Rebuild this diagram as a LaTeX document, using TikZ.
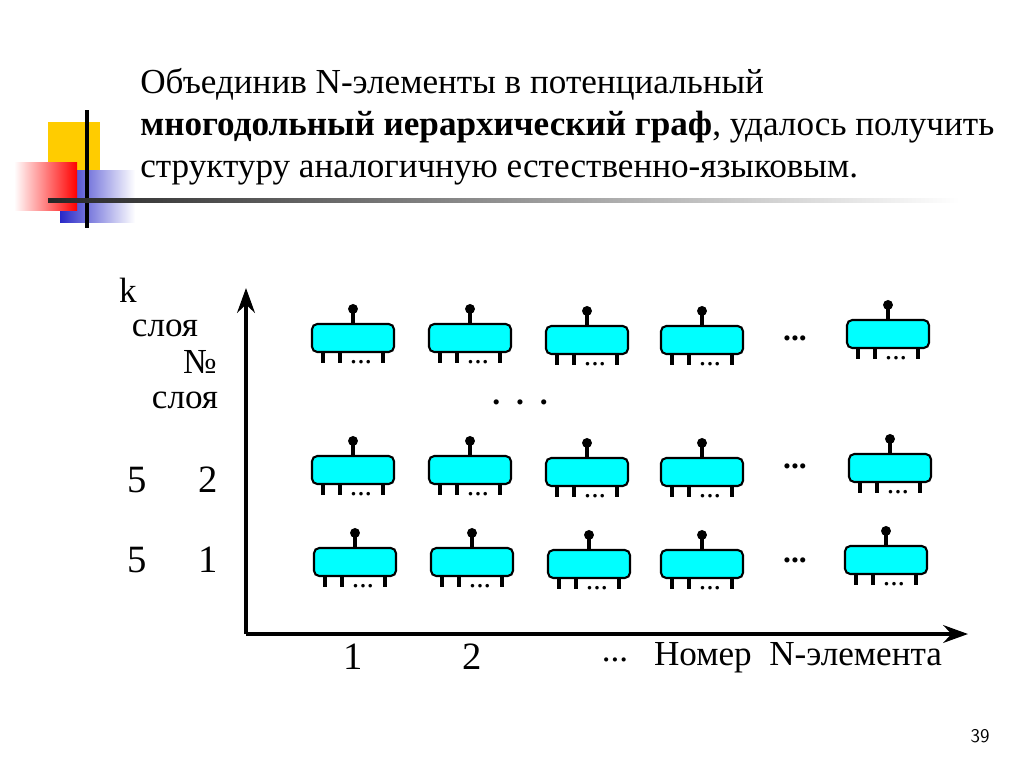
\documentclass[tikz,border=0pt]{standalone}
\usepackage{fontspec}
\setmainfont{Liberation Serif}
\usetikzlibrary{arrows.meta}
\definecolor{elemfill}{RGB}{0,255,255}
\definecolor{decoyellow}{RGB}{255,204,0}
\definecolor{decoblue}{RGB}{40,40,200}
\tikzset{
	lbl/.style={font=\fontsize{20}{23}\selectfont, inner sep=0pt},
	big/.style={font=\fontsize{22}{26}\selectfont, inner sep=0pt},
	elem/.style={draw=black, line width=1.2pt, fill=elemfill, rounded corners=3pt, minimum width=82*0.02cm, minimum height=28*0.02cm, inner sep=0pt},
	leg/.style={line width=2.2pt},
}
\newcommand{\nelem}[3]{%
	\node[elem] (#1) at (#2,#3) {};
	\draw[leg] (#1.north) -- ++(0,-14) node[circle, fill=black, inner sep=2pt] {};
	\draw[leg] ([xshift=-30*0.02cm]#1.south) -- ++(0,10);
	\draw[leg] ([xshift=-13*0.02cm]#1.south) -- ++(0,10);
	\draw[leg] ([xshift=30*0.02cm]#1.south) -- ++(0,10);
	\node[inner sep=0pt, font=\fontsize{17}{20}\selectfont, anchor=south] at ([xshift=8*0.02cm,yshift=-11*0.02cm]#1.south) {...};
}
\begin{document}
\begin{tikzpicture}[x=0.02cm, y=-0.02cm]
	\useasboundingbox (0,0) rectangle (1024,768);
	% decoration
	\fill[decoyellow] (48,122) rectangle (100,172);
	\shade[left color=decoblue, right color=white] (60,170) rectangle (135,222);
	\shade[left color=white, right color=red] (14,162) rectangle (77,210);
	\draw[line width=2pt] (87,110) -- (87,228);
	\shade[left color=black!85, right color=white] (48,198) rectangle (960,202);
	% title
	\node[lbl, anchor=west, align=left] (title) at (140,127) {Объединив N-элементы в потенциальный\\[1pt]
		\textbf{многодольный иерархический граф}, удалось получить\\[1pt]
		структуру аналогичную естественно-языковым.};
	% axes
	\coordinate (o) at (246,634);
	\coordinate (ytop) at (246,288);
	\coordinate (xend) at (968,634);
	\draw[line width=2.5pt, -{Stealth[length=14pt,width=10pt]}] (o) -- (ytop);
	\draw[line width=2.5pt, -{Stealth[length=14pt,width=10pt]}] (o) -- (xend);
	% elements
	\foreach \x/\y [count=\i] in {353/338, 470/338, 587/340, 702/340, 888/334,
		353/470, 470/470, 587/472, 702/472, 890/468,
		355/562, 472/562, 589/564, 702/564, 886/560}
		\nelem{e\i}{\x}{\y};
	\node[lbl, font=\bfseries\fontsize{18}{20}\selectfont] (d1) at (795,338) {...};
	\node[lbl, font=\bfseries\fontsize{18}{20}\selectfont] (d2) at (795,466) {...};
	\node[lbl, font=\bfseries\fontsize{18}{20}\selectfont] (d3) at (795,560) {...};
	\node[lbl, font=\bfseries\fontsize{18}{20}\selectfont] (dv) at (520,402) {.\ \ .\ \ .};
	% labels
	\node[lbl] (k) at (128,290) {k};
	\node[lbl] (s1) at (165,328) {слоя};
	\node[lbl] (no) at (200,362) {№};
	\node[lbl] (s2) at (185,400) {слоя};
	\node[big] (k5a) at (137,480) {5};
	\node[big] (n2) at (208,480) {2};
	\node[big] (k5b) at (137,560) {5};
	\node[big] (n1) at (208,560) {1};
	\node[big] (x1) at (353,657) {1};
	\node[big] (x2) at (472,657) {2};
	\node[lbl] (xd) at (615,660) {...};
	\node[lbl] (xn) at (798,658) {Номер\ \ N-элемента};
	\node[font=\sffamily\fontsize{11}{13}\selectfont] (pg) at (980,736) {39};
\end{tikzpicture}
\end{document}
